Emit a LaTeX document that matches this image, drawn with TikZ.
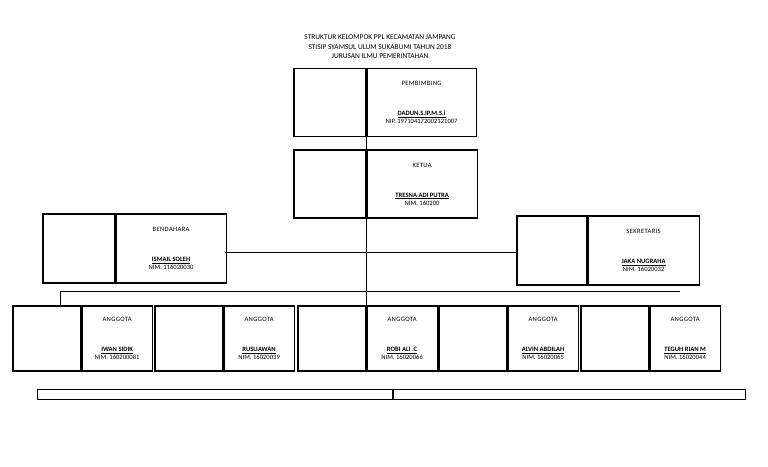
\documentclass[tikz,border=0pt]{standalone}
\usepackage{fontspec}
\setmainfont{Carlito}
\usetikzlibrary{positioning}

\newcommand{\rolename}[1]{{\addfontfeatures{LetterSpace=5}#1}}

\begin{document}
\begin{tikzpicture}[x=1pt, y=-1pt,
    photo/.style={rectangle, draw, line width=1.1pt, inner sep=0pt, minimum width=72pt, minimum height=68pt},
    info/.style={rectangle, draw, line width=1.1pt, inner sep=0pt, minimum width=110pt, minimum height=68pt, align=center, font=\fontsize{6.6}{8}\selectfont},
    smallphoto/.style={photo, minimum width=68pt, minimum height=65pt},
    smallinfo/.style={info, minimum width=70pt, minimum height=65pt},
    divider/.style={line width=2pt},
    line/.style={line width=1pt}]

    \useasboundingbox (0,0) rectangle (768,466);

    \node[align=center, font=\fontsize{7.4}{9.6}\selectfont] (title) at (380,47)
        {STRUKTUR KELOMPOK PPL KECAMATAN JAMPANG\\STISIP SYAMSUL ULUM SUKABUMI TAHUN 2018\\JURUSAN ILMU PEMERINTAHAN};

    % pembimbing dan ketua
    \node[photo] (pbphoto) at (330,102.5) {};
    \node[info, right=0pt of pbphoto, minimum width=109pt] (pb)
        {\rolename{PEMBIMBING}\\[22pt] \textbf{\underline{DADUN.S.IP.M.S.i}}\\NIP. 197104172002121007};
    \node[photo] (ktphoto) at (330,184) {};
    \node[info, right=0pt of ktphoto] (kt)
        {\rolename{KETUA}\\[22pt] \textbf{\underline{TRESNA ADI PUTRA}}\\NIM. 160200};

    % bendahara dan sekretaris
    \node[photo, minimum height=69pt] (bdphoto) at (79,248.5) {};
    \node[info, right=0pt of bdphoto, minimum height=69pt] (bd)
        {\rolename{BENDAHARA}\\[22pt] \textbf{\underline{ISMAIL SOLEH}}\\NIM. 116020030};
    \node[photo, minimum width=70pt, minimum height=69pt] (skphoto) at (552,250.5) {};
    \node[info, right=0pt of skphoto, minimum width=111pt, minimum height=69pt] (sk)
        {\rolename{SEKRETARIS}\\[22pt] \textbf{\underline{JAKA NUGRAHA}}\\NIM. 16020032};

    % anggota
    \node[smallphoto] (a1photo) at (47,338.5) {};
    \node[smallinfo, right=0pt of a1photo] (a1)
        {\rolename{ANGGOTA}\\[22pt] \textbf{\underline{IWAN SIDIK}}\\NIM. 160200081};
    \node[smallphoto] (a2photo) at (189,338.5) {};
    \node[smallinfo, right=0pt of a2photo] (a2)
        {\rolename{ANGGOTA}\\[22pt] \textbf{\underline{RUSLIAWAN}}\\NIM. 16020039};
    \node[smallphoto] (a3photo) at (332,338.5) {};
    \node[smallinfo, right=0pt of a3photo] (a3)
        {\rolename{ANGGOTA}\\[22pt] \textbf{\underline{ROBI ALI .C}}\\NIM. 16020066};
    \node[smallphoto] (a4photo) at (473,338.5) {};
    \node[smallinfo, right=0pt of a4photo] (a4)
        {\rolename{ANGGOTA}\\[22pt] \textbf{\underline{ALVIN ABDILAH}}\\NIM. 16020065};
    \node[smallphoto] (a5photo) at (615,338.5) {};
    \node[smallinfo, right=0pt of a5photo] (a5)
        {\rolename{ANGGOTA}\\[22pt] \textbf{\underline{TEGUH RIAN M}}\\NIM. 16020044};

    % garis
    \coordinate (leftend) at (60,291);
    \coordinate (rightend) at (680,291);
    \coordinate (bdend) at (225,252);
    \draw[line] (pb.south west) -- (a3.north west);
    \draw[line] (bdend) -- (bdend -| skphoto.west);
    \draw[line] (rightend) -- (leftend) -- (leftend |- a1.north);

    \draw[divider] (pb.north west) -- (pb.south west);
    \draw[divider] (kt.north west) -- (kt.south west);
    \draw[divider] (bd.north west) -- (bd.south west);
    \draw[divider] (sk.north west) -- (sk.south west);
    \draw[divider] (a1.north west) -- (a1.south west);
    \draw[divider] (a2.north west) -- (a2.south west);
    \draw[divider] (a3.north west) -- (a3.south west);
    \draw[divider] (a4.north west) -- (a4.south west);
    \draw[divider] (a5.north west) -- (a5.south west);

    % kotak bawah
    \node[rectangle, draw, line width=1pt, inner sep=0pt, minimum width=355pt, minimum height=10pt] (stripl) at (214.5,394) {};
    \node[rectangle, draw, line width=1pt, inner sep=0pt, minimum width=352pt, minimum height=10pt, right=0pt of stripl] (stripr) {};

\end{tikzpicture}
\end{document}
